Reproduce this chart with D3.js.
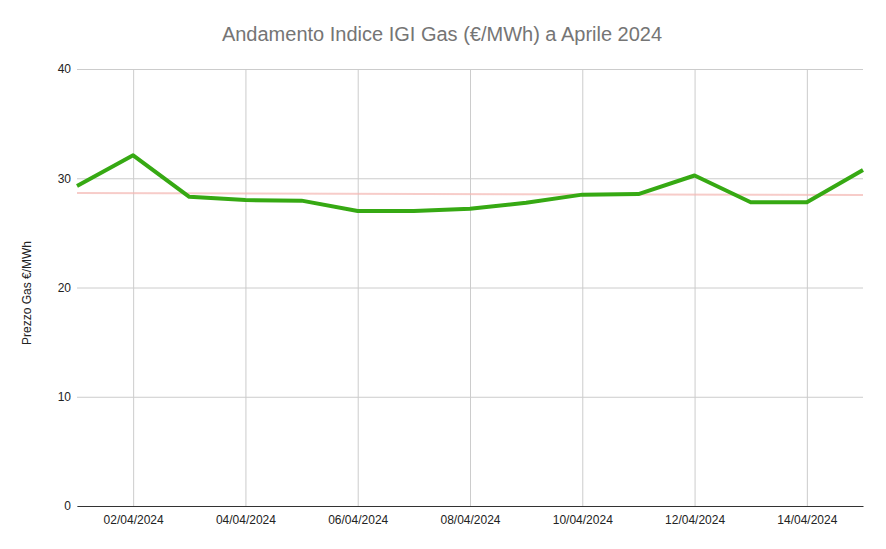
<!DOCTYPE html>
<meta charset="utf-8">
<style>
body { margin: 0; background: #fff; }
text { font-family: "Liberation Sans", Arial, sans-serif; }
</style>
<body>
<script src="https://d3js.org/d3.v7.min.js"></script>
<script>

// data
var days = ["01/04/2024","02/04/2024","03/04/2024","04/04/2024","05/04/2024",
            "06/04/2024","07/04/2024","08/04/2024","09/04/2024","10/04/2024",
            "11/04/2024","12/04/2024","13/04/2024","14/04/2024","15/04/2024"];
var prices = [29.3, 32.1, 28.3, 28.0, 27.95, 27.0, 27.0, 27.2, 27.75, 28.5,
              28.55, 30.25, 27.8, 27.8, 30.75];
var yTicks = [0, 10, 20, 30, 40];
var xTickDays = ["02/04/2024","04/04/2024","06/04/2024","08/04/2024",
                 "10/04/2024","12/04/2024","14/04/2024"];

var W = 886, H = 549;
var margin = {top: 69, right: 23, bottom: 43, left: 77},
    width = W - margin.left - margin.right,
    height = H - margin.top - margin.bottom;

var parse = d3.timeParse("%d/%m/%Y");
var data = days.map((d, i) => ({date: parse(d), value: prices[i]}));

var x = d3.scaleTime()
    .domain(d3.extent(data, d => d.date))
    .range([0, width]);
var y = d3.scaleLinear()
    .domain([0, 40])
    .range([height, 0]);

var svg = d3.select("body").append("svg")
    .attr("width", W)
    .attr("height", H);

//title
svg.append("text")
    .attr("x", 442)
    .attr("y", 41)
    .attr("text-anchor", "middle")
    .style("font-size", "20px")
    .style("fill", "#757575")
    .text("Andamento Indice IGI Gas (€/MWh) a Aprile 2024");

//y axis title
svg.append("text")
    .attr("transform", "translate(31,293) rotate(-90)")
    .attr("text-anchor", "middle")
    .style("font-size", "12px")
    .style("fill", "#222")
    .text("Prezzo Gas €/MWh");

var g = svg.append("g")
    .attr("transform", `translate(${margin.left}, ${margin.top})`);

//horizontal grid
g.append("g")
    .call(d3.axisLeft(y).tickValues(yTicks).tickSize(-width).tickFormat(""))
    .call(s => s.select(".domain").remove())
    .selectAll("line")
    .attr("stroke", "#cccccc");

//vertical grid
var xTickDates = xTickDays.map(parse);
g.append("g")
    .attr("transform", "translate(0," + height + ")")
    .call(d3.axisBottom(x).tickValues(xTickDates).tickSize(-height).tickFormat(""))
    .call(s => s.select(".domain").remove())
    .selectAll("line")
    .attr("stroke", "#cccccc");

//y labels
g.append("g")
    .call(d3.axisLeft(y).tickValues(yTicks).tickSize(0).tickPadding(6))
    .call(s => s.select(".domain").remove())
    .selectAll("text")
    .style("font-size", "12px")
    .style("font-family", "'Liberation Sans', Arial, sans-serif")
    .attr("fill", "#222");

//x axis
var xAxis = g.append("g")
    .attr("transform", "translate(0," + height + ")")
    .call(d3.axisBottom(x).tickValues(xTickDates).tickSize(0).tickPadding(9)
      .tickFormat(d3.timeFormat("%d/%m/%Y")));
xAxis.select(".domain").attr("stroke", "#333").attr("stroke-width", 1.2);
xAxis.selectAll("text")
    .style("font-size", "12px")
    .style("font-family", "'Liberation Sans', Arial, sans-serif")
    .attr("fill", "#222");

//linear trendline (least squares on the series)
var n = data.length;
var mx = d3.mean(data, (d, i) => i), my = d3.mean(prices);
var slope = d3.sum(data, (d, i) => (i - mx) * (d.value - my)) /
            d3.sum(data, (d, i) => (i - mx) * (i - mx));
var trend = [0, n - 1].map(i => ({date: data[i].date, value: my + slope * (i - mx)}));

g.append("path")
    .datum(trend)
    .attr("fill", "none")
    .attr("stroke", "#f4b6b2")
    .attr("stroke-opacity", 0.7)
    .attr("stroke-width", 2)
    .attr("d", d3.line().x(d => x(d.date)).y(d => y(d.value)));

//price line
g.append("path")
    .datum(data)
    .attr("fill", "none")
    .attr("stroke", "#36a913")
    .attr("stroke-width", 4)
    .attr("stroke-linejoin", "round")
    .attr("d", d3.line().x(d => x(d.date)).y(d => y(d.value)));

</script>
</body>
